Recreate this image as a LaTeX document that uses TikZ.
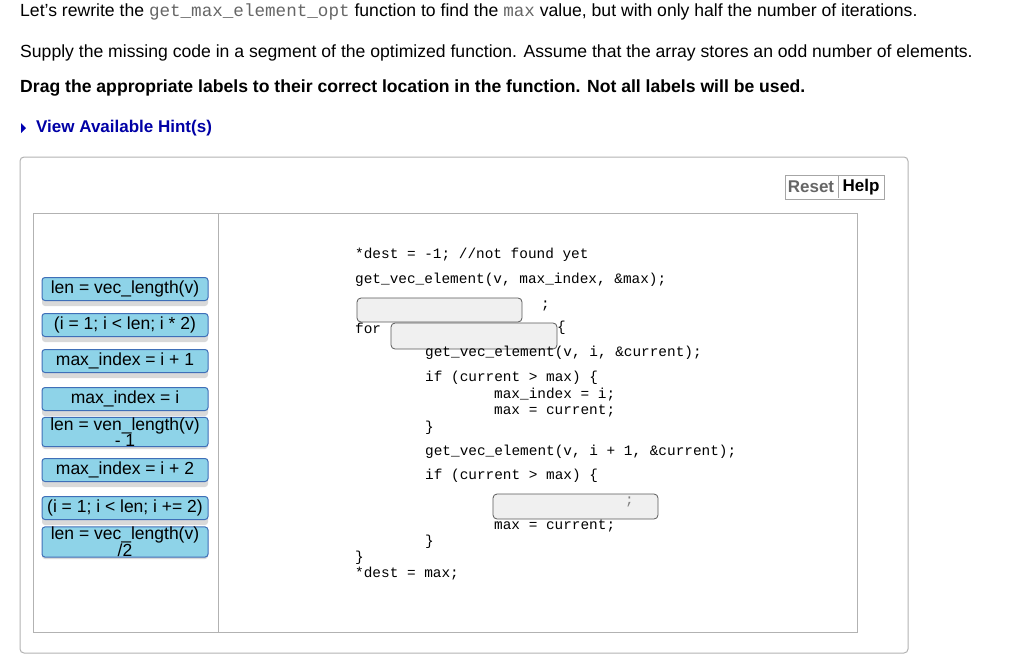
\documentclass[tikz,border=0pt]{standalone}
\usepackage{fontspec}
\setmainfont{Liberation Sans}
\setmonofont{Liberation Mono}
\definecolor{labfill}{HTML}{8ED3E8}
\definecolor{labdraw}{HTML}{3F6FB8}
\begin{document}
\begin{tikzpicture}[x=1pt,y=-1pt,
 hdr/.style={anchor=west,inner sep=0,font=\fontsize{17.6}{19}\selectfont},
 code/.style={anchor=west,inner sep=0,font=\ttfamily\fontsize{14.4}{16}\selectfont},
 lab/.style={draw=labdraw,line width=1pt,fill=labfill,rounded corners=3pt,minimum width=166pt,minimum height=23pt,inner sep=0,align=center,font=\fontsize{17.5}{15}\selectfont},
 blank/.style={draw=gray!70!black,fill=gray!12,rounded corners=4pt,line width=0.8pt}]
\useasboundingbox (0,0) rectangle (1024,661);
\node[hdr] (t1) at (20,12) {Let's rewrite the \texttt{\textcolor{gray!80!black}{get\_max\_element\_opt}} function to find the \texttt{\textcolor{gray!80!black}{max}} value, but with only half the number of iterations.};
\node[hdr] (t2) at (20,53) {Supply the missing code in a segment of the optimized function. Assume that the array stores an odd number of elements.};
\node[hdr,font=\bfseries\fontsize{17.6}{19}\selectfont] (t3) at (20,88) {Drag the appropriate labels to their correct location in the function. Not all labels will be used.};
\fill[blue!70!black] (21,123) -- (26,128) -- (21,133) -- cycle;
\node[hdr,font=\bfseries\fontsize{17}{19}\selectfont,text=blue!65!black] (t4) at (36,128) {View Available Hint(s)};
\draw[gray!60,line width=1pt,rounded corners=4pt] (20,157) rectangle (908,653);
\draw[gray!70,line width=1pt] (785,175) rectangle (884,199);
\node[inner sep=0,font=\bfseries\fontsize{17}{19}\selectfont,text=gray!80!black] (reset) at (811,187) {Reset};
\node[inner sep=0,font=\bfseries\fontsize{17}{19}\selectfont] (help) at (861,187) {Help};
\draw[gray!70] (838,176) -- (838,198);
\draw[gray!60,line width=1pt] (33,213) rectangle (857,632);
\draw[gray!60,line width=1pt] (218,213) -- (218,632);
\foreach \y/\t [count=\i] in {289/{len = vec\_length(v)},325/{(i = 1; i < len; i * 2)},361/{max\_index = i + 1},399/{max\_index = i},432/{len = ven\_length(v)\\ - 1},470/{max\_index = i + 2},508/{(i = 1; i < len; i += 2)},542/{len = vec\_length(v)\\ /2}}{
 \fill[gray!30,rounded corners=3pt] (42,\y-9) rectangle (208,\y+17);
 \node[lab] (l\i) at (125,\y) {\t};
}
\node[code] (c1) at (355,255) {*dest = -1; //not found yet};
\node[code] (c2) at (355,280) {get\_vec\_element(v, max\_index, \&max);};
\draw[blank] (357,298) rectangle (522,322);
\node[code] (c3) at (541,306) {;};
\node[code] (c4) at (355,328) {for};
\draw[blank] (391,323) rectangle (557,349);
\node[code] (c5) at (557,328) {\{};
\node[code] (c6) at (425,353) {get\_vec\_element(v, i, \&current);};
\node[code] (c7) at (425,378) {if (current > max) \{};
\node[code] (c8) at (494,395) {max\_index = i;};
\node[code] (c9) at (494,411) {max = current;};
\node[code] (c10) at (425,428) {\}};
\node[code] (c11) at (425,452) {get\_vec\_element(v, i + 1, \&current);};
\node[code] (c12) at (425,476) {if (current > max) \{};
\draw[blank] (493,494) rectangle (658,519);
\node[code,text=gray] (c13) at (625,502) {;};
\node[code] (c14) at (494,526) {max = current;};
\node[code] (c15) at (425,542) {\}};
\node[code] (c16) at (355,558) {\}};
\node[code] (c17) at (355,574) {*dest = max;};
\end{tikzpicture}
\end{document}
